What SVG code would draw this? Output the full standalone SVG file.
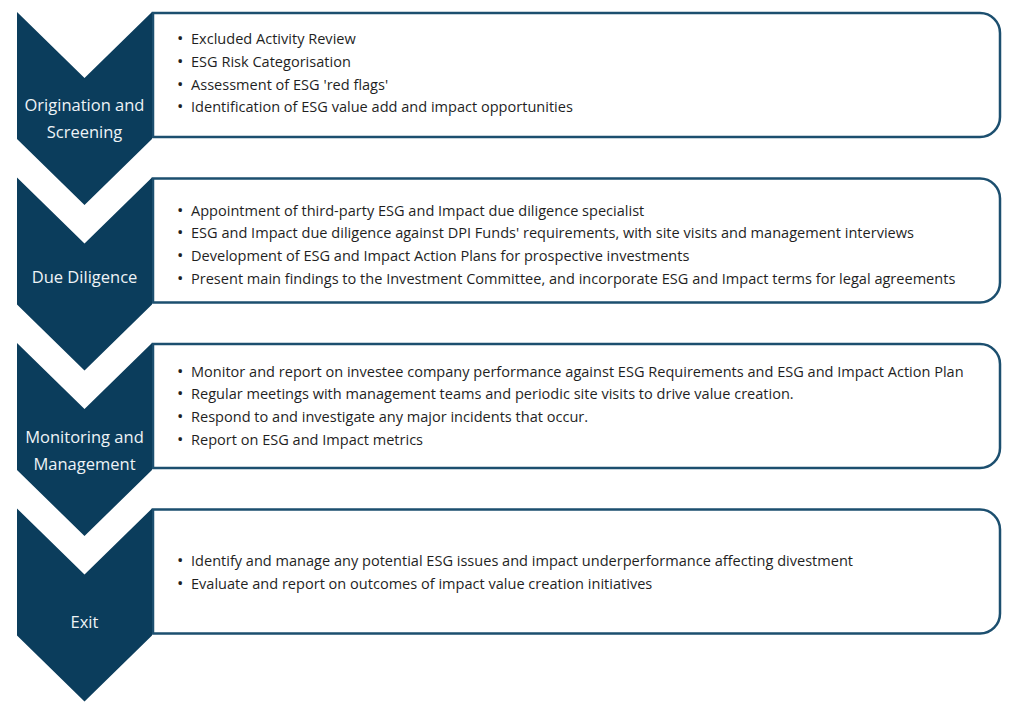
<svg xmlns="http://www.w3.org/2000/svg" width="1024" height="717" viewBox="0 0 1024 717">
<style>
.box{fill:#ffffff;stroke:#1c4f6f;stroke-width:2.5}
.chev{fill:#0b3d5c}
.lbl{font-family:"Open Sans","Noto Sans",sans-serif;font-size:16.5px;fill:#eef3f6;text-anchor:middle}
.itm{font-family:"Open Sans","Noto Sans",sans-serif;font-size:14.55px;fill:#1f1f1f}
.bul{font-size:17px}
</style>
<rect width="1024" height="717" fill="#ffffff"/>
<g id="connectors"></g>
<g id="stage1">
<path class="box" d="M153,13 H980 A20,20 0 0 1 1000,33 V117 A20,20 0 0 1 980,137 H153 Z"/>
<path class="chev" d="M17,12 L84.5,78 L152,12 L152,139 L84.5,205 L17,139 Z"/>
<text class="lbl" x="84.5" y="111">Origination and</text>
<text class="lbl" x="84.5" y="138">Screening</text>
<text class="itm" x="177" y="44"><tspan class="bul">•</tspan><tspan x="191">Excluded Activity Review</tspan></text>
<text class="itm" x="177" y="66.8"><tspan class="bul">•</tspan><tspan x="191">ESG Risk Categorisation</tspan></text>
<text class="itm" x="177" y="89.6"><tspan class="bul">•</tspan><tspan x="191">Assessment of ESG 'red flags'</tspan></text>
<text class="itm" x="177" y="112.4"><tspan class="bul">•</tspan><tspan x="191">Identification of ESG value add and impact opportunities</tspan></text>
</g>
<g id="stage2">
<path class="box" d="M153,178.5 H980 A20,20 0 0 1 1000,198.5 V282.5 A20,20 0 0 1 980,302.5 H153 Z"/>
<path class="chev" d="M17,177.5 L84.5,243.5 L152,177.5 L152,304.5 L84.5,370.5 L17,304.5 Z"/>
<text class="lbl" x="84.5" y="283">Due Diligence</text>
<text class="itm" x="177" y="215.5"><tspan class="bul">•</tspan><tspan x="191">Appointment of third-party ESG and Impact due diligence specialist</tspan></text>
<text class="itm" x="177" y="238.3"><tspan class="bul">•</tspan><tspan x="191">ESG and Impact due diligence against DPI Funds' requirements, with site visits and management interviews</tspan></text>
<text class="itm" x="177" y="261.1"><tspan class="bul">•</tspan><tspan x="191">Development of ESG and Impact Action Plans for prospective investments</tspan></text>
<text class="itm" x="177" y="283.9"><tspan class="bul">•</tspan><tspan x="191">Present main findings to the Investment Committee, and incorporate ESG and Impact terms for legal agreements</tspan></text>
</g>
<g id="stage3">
<path class="box" d="M153,344 H980 A20,20 0 0 1 1000,364 V448 A20,20 0 0 1 980,468 H153 Z"/>
<path class="chev" d="M17,343 L84.5,409 L152,343 L152,470 L84.5,536 L17,470 Z"/>
<text class="lbl" x="84.5" y="443">Monitoring and</text>
<text class="lbl" x="84.5" y="470">Management</text>
<text class="itm" x="177" y="376.5"><tspan class="bul">•</tspan><tspan x="191">Monitor and report on investee company performance against ESG Requirements and ESG and Impact Action Plan</tspan></text>
<text class="itm" x="177" y="399.3"><tspan class="bul">•</tspan><tspan x="191">Regular meetings with management teams and periodic site visits to drive value creation.</tspan></text>
<text class="itm" x="177" y="422.1"><tspan class="bul">•</tspan><tspan x="191">Respond to and investigate any major incidents that occur.</tspan></text>
<text class="itm" x="177" y="444.9"><tspan class="bul">•</tspan><tspan x="191">Report on ESG and Impact metrics</tspan></text>
</g>
<g id="stage4">
<path class="box" d="M153,509.5 H980 A20,20 0 0 1 1000,529.5 V613.5 A20,20 0 0 1 980,633.5 H153 Z"/>
<path class="chev" d="M17,508.5 L84.5,574.5 L152,508.5 L152,635.5 L84.5,701.5 L17,635.5 Z"/>
<text class="lbl" x="84.5" y="628">Exit</text>
<text class="itm" x="177" y="566"><tspan class="bul">•</tspan><tspan x="191">Identify and manage any potential ESG issues and impact underperformance affecting divestment</tspan></text>
<text class="itm" x="177" y="588.8"><tspan class="bul">•</tspan><tspan x="191">Evaluate and report on outcomes of impact value creation initiatives</tspan></text>
</g>
</svg>
